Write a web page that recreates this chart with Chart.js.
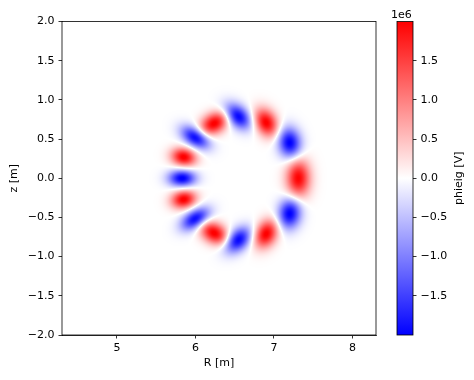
<!DOCTYPE html>
<html><head><meta charset="utf-8">
<script src="https://cdn.jsdelivr.net/npm/chart.js@4/dist/chart.umd.min.js"></script>
<style>
html,body{margin:0;padding:0;background:#fff;}
#wrap{position:relative;width:474px;height:380px;background:#fff;}
#wrap canvas{position:absolute;left:0;top:0;}
</style></head><body>
<div id="wrap"><canvas id="main" width="474" height="380"></canvas><canvas id="cbar" width="474" height="380"></canvas></div>
<script>
// ---- data ----
const rRange = [4.3, 8.3];
const zRange = [-2.0, 2.0];
const rTicks = [5, 6, 7, 8];
const zTicks = [-2.0, -1.5, -1.0, -0.5, 0.0, 0.5, 1.0, 1.5, 2.0];
const colorLimits = [-2.0e6, 2.0e6];
const cbTicks = [-1.5e6, -1.0e6, -0.5e6, 0.0, 0.5e6, 1.0e6, 1.5e6];

// lobes of the eigenfunction: centre (R, z) [m], peak phieig [V]
const blobR   = [7.31, 7.20, 6.90, 6.54, 6.24, 6.00, 5.85, 5.83, 5.85, 6.00, 6.24, 6.54, 6.90, 7.20];
const blobZ   = [0.00, 0.45, 0.71, 0.79, 0.70, 0.52, 0.27, 0.00, -0.27, -0.52, -0.70, -0.79, -0.71, -0.45];
const blobPhi = [2.0e6, -2.05e6, 2.05e6, -2.05e6, 2.05e6, -2.05e6, 2.05e6, -2.05e6, 2.05e6, -2.05e6, 2.05e6, -2.05e6, 2.05e6, -2.05e6];
// lobe orientation [deg] and extent along / across it [m]
const blobTilt = [90, 100, 119, 138, 30, 148, -10, 0, 10, -148, -30, -138, -119, -100];
const blobLong = [0.17, 0.135, 0.13, 0.135, 0.135, 0.135, 0.11, 0.12, 0.11, 0.135, 0.135, 0.135, 0.13, 0.135];
const blobWide = [0.105, 0.10, 0.095, 0.09, 0.09, 0.08, 0.08, 0.075, 0.08, 0.08, 0.09, 0.09, 0.095, 0.10];

// ---- rendering ----
const FONT = {family: 'DejaVu Sans', size: 11};
const INK = '#000';
const fmt1 = v => (v < 0 ? '\u2212' : '') + Math.abs(v).toFixed(1);

function bwr(t) {
  t = t < 0 ? 0 : (t > 1 ? 1 : t);
  if (t < 0.5) { const c = 2 * t; return [c, c, 1]; }
  const c = 2 * (1 - t); return [1, c, c];
}

const fieldPlugin = {
  id: 'field',
  beforeDatasetsDraw(chart) {
    const {ctx, chartArea: a, scales: {x, y}} = chart;
    const pts = chart.data.datasets[0].data;
    const L = Math.floor(a.left), T = Math.floor(a.top);
    const W = Math.ceil(a.right) - L, H = Math.ceil(a.bottom) - T;
    const off = document.createElement('canvas'); off.width = W; off.height = H;
    const octx = off.getContext('2d');
    const img = octx.createImageData(W, H);
    const pre = pts.map(p => {
      const t = p.tilt * Math.PI / 180;
      return {x: p.x, y: p.y, a: p.phi, c: Math.cos(t), s: Math.sin(t),
              ia: 1 / (2 * p.sl * p.sl), ib: 1 / (2 * p.sw * p.sw)};
    });
    const [vmin, vmax] = colorLimits;
    for (let j = 0; j < H; j++) {
      const z = y.getValueForPixel(T + j + 0.5);
      for (let i = 0; i < W; i++) {
        const R = x.getValueForPixel(L + i + 0.5);
        let v = 0;
        for (const b of pre) {
          const dx = R - b.x, dz = z - b.y;
          const u = dx * b.c + dz * b.s, w = -dx * b.s + dz * b.c;
          const e = u * u * b.ia + w * w * b.ib;
          if (e < 25) v += b.a * Math.exp(-e);
        }
        const col = bwr((v - vmin) / (vmax - vmin));
        const k = (j * W + i) * 4;
        img.data[k] = Math.round(col[0] * 255);
        img.data[k + 1] = Math.round(col[1] * 255);
        img.data[k + 2] = Math.round(col[2] * 255);
        img.data[k + 3] = 255;
      }
    }
    octx.putImageData(img, 0, 0);
    ctx.save();
    ctx.beginPath(); ctx.rect(a.left, a.top, a.right - a.left, a.bottom - a.top); ctx.clip();
    ctx.drawImage(off, L, T);
    ctx.restore();
  }
};

const framePlugin = {
  id: 'frame',
  afterDraw(chart) {
    const {ctx, chartArea: a} = chart;
    ctx.save();
    ctx.strokeStyle = INK; ctx.lineWidth = 0.8;
    ctx.strokeRect(a.left, a.top, a.right - a.left, a.bottom - a.top);
    ctx.restore();
  }
};

const axisCommon = {
  type: 'linear',
  grid: {drawOnChartArea: false, drawTicks: true, tickLength: 3.5, color: INK, lineWidth: 0.8},
  border: {display: true, color: INK, width: 0.8},
};

new Chart(document.getElementById('main'), {
  type: 'scatter',
  data: {datasets: [{
    label: 'phieig',
    data: blobR.map((r, i) => ({x: r, y: blobZ[i], phi: blobPhi[i], tilt: blobTilt[i], sl: blobLong[i], sw: blobWide[i]})),
    pointRadius: 0, pointHoverRadius: 0
  }]},
  options: {
    responsive: false, animation: false, events: [],
    layout: {padding: {left: 0, top: 21.5, right: 98, bottom: 0}},
    plugins: {legend: {display: false}, tooltip: {enabled: false}},
    scales: {
      x: Object.assign({}, axisCommon, {
        min: rRange[0], max: rRange[1],
        afterBuildTicks: s => { s.ticks = rTicks.map(v => ({value: v})); },
        afterFit: s => { s.height = 45; },
        ticks: {padding: 3.5, color: INK, font: FONT, maxRotation: 0, autoSkip: false, callback: v => String(v)},
        title: {display: true, text: 'R [m]', color: INK, font: FONT, padding: {top: 0, bottom: 10}}
      }),
      y: Object.assign({}, axisCommon, {
        min: zRange[0], max: zRange[1],
        afterBuildTicks: s => { s.ticks = zTicks.map(v => ({value: v})); },
        afterFit: s => { s.width = 62; },
        ticks: {padding: 4, color: INK, font: FONT, autoSkip: false, callback: v => fmt1(v)},
        title: {display: true, text: 'z [m]', color: INK, font: FONT, padding: {top: 7.5, bottom: 0}}
      })
    }
  },
  plugins: [fieldPlugin, framePlugin]
});

const cbarDecor = {
  id: 'cbarDecor',
  afterDraw(chart) {
    const {ctx, chartArea: a, scales: {y}} = chart;
    ctx.save();
    ctx.strokeStyle = INK; ctx.lineWidth = 0.8;
    ctx.strokeRect(a.left, a.top, a.right - a.left, a.bottom - a.top);
    ctx.fillStyle = INK;
    ctx.font = FONT.size + 'px "' + FONT.family + '"';
    ctx.textAlign = 'left'; ctx.textBaseline = 'alphabetic';
    ctx.fillText('1e6', a.left - 6, a.top - 3.2);
    ctx.translate(y.right - 15, (a.top + a.bottom) / 2);
    ctx.rotate(-Math.PI / 2);
    ctx.textAlign = 'center'; ctx.textBaseline = 'middle';
    ctx.fillText('phieig [V]', 0, 0);
    ctx.restore();
  }
};

new Chart(document.getElementById('cbar'), {
  type: 'bar',
  data: {labels: ['phieig'], datasets: [{
    data: [[colorLimits[0], colorLimits[1]]],
    backgroundColor: (c) => {
      const a = c.chart.chartArea;
      if (!a) return 'rgba(0,0,0,0)';
      const g = c.chart.ctx.createLinearGradient(0, a.bottom, 0, a.top);
      g.addColorStop(0, 'rgb(0,0,255)');
      g.addColorStop(0.5, 'rgb(255,255,255)');
      g.addColorStop(1, 'rgb(255,0,0)');
      return g;
    },
    borderWidth: 0, barPercentage: 1, categoryPercentage: 1
  }]},
  options: {
    responsive: false, animation: false, events: [],
    layout: {padding: {left: 397, top: 21.5, right: 0, bottom: 45}},
    plugins: {legend: {display: false}, tooltip: {enabled: false}},
    scales: {
      x: {display: false},
      y: {
        type: 'linear', position: 'right',
        min: colorLimits[0], max: colorLimits[1],
        afterBuildTicks: s => { s.ticks = cbTicks.map(v => ({value: v})); },
        afterFit: s => { s.width = 61; },
        grid: {drawOnChartArea: false, drawTicks: true, tickLength: 3.5, color: INK, lineWidth: 0.8},
        border: {display: false},
        ticks: {padding: 4, color: INK, font: FONT, autoSkip: false, callback: v => fmt1(v / 1e6)}
      }
    }
  },
  plugins: [cbarDecor]
});
</script>
</body></html>
